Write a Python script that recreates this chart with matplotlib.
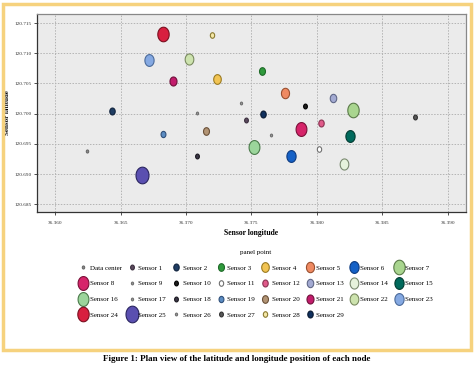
import numpy as np
import matplotlib
matplotlib.use("Agg")
import matplotlib.pyplot as plt
from matplotlib.patches import Rectangle

# node names, positions (lon, lat), marker heights and colours
names = ["Data center"] + ["Sensor %d" % i for i in range(1, 30)]

lon = [36.3624, 36.3746, 36.3643, 36.3758, 36.3724, 36.3776, 36.3780, 36.3828,
       36.3788, 36.3742, 36.3791, 36.3802, 36.3803, 36.3812, 36.3821, 36.3825,
       36.3752, 36.3708, 36.3708, 36.3682, 36.3715, 36.3690, 36.3702, 36.3672,
       36.3682, 36.3666, 36.3765, 36.3875, 36.3720, 36.3759]
lat = [120.6938, 120.6989, 120.7004, 120.7070, 120.7057, 120.7034, 120.6930, 120.7006,
       120.6975, 120.7017, 120.7013, 120.6941, 120.6984, 120.7026, 120.6917, 120.6963,
       120.6945, 120.7001, 120.6930, 120.6966, 120.6971, 120.7054, 120.7090, 120.7089,
       120.7132, 120.6898, 120.6965, 120.6994, 120.7130, 120.6999]

size = [2.2, 3.5, 5, 5.5, 7, 7.5, 8.5, 10.5,
        10, 2, 3.5, 4, 5, 6, 8, 8.5,
        10, 2, 3.5, 4.5, 5.5, 6.5, 8, 8.5,
        10.5, 12, 2, 3.5, 4, 5]

face = ["#8c8c8c", "#5b4a5e", "#1f3d63", "#2f9a3c", "#f2c453", "#ef8a62", "#1561c6", "#a9d58f",
        "#d6246a", "#9a9a9a", "#1e1e1e", "#ffffff", "#e05a8a", "#a3aad2", "#e6f2dc", "#00695c",
        "#9bd59b", "#9a9a9a", "#3b3746", "#5b8cc2", "#b29474", "#c21c6c", "#cde3ae", "#85a9e2",
        "#d81f3f", "#5a4fb0", "#9a9a9a", "#595959", "#f4e7a6", "#10305e"]

edge = ["#6a6a6a", "#3b2f3e", "#10233d", "#1f6a28", "#9a7a20", "#9a5030", "#0c3a80", "#5a7a48",
        "#7a1038", "#707070", "#000000", "#707070", "#8a3050", "#606888", "#7a8a70", "#003a30",
        "#4a7a4a", "#707070", "#1a1820", "#30507a", "#6a5038", "#70103a", "#7a8a60", "#4a6a9a",
        "#7a1020", "#2a2560", "#707070", "#303030", "#8a7a30", "#081830"]

xticks = [36.360, 36.365, 36.370, 36.375, 36.380, 36.385, 36.390]
yticks = [120.685, 120.690, 120.695, 120.700, 120.705, 120.710, 120.715]

serif = ["Liberation Serif", "DejaVu Serif"]
plt.rcParams["font.family"] = serif

# slightly tall ellipse, as in the stretched original
t = np.linspace(0, 2 * np.pi, 40)
ell = np.column_stack([0.78 * np.cos(t), np.sin(t)])

fig = plt.figure(figsize=(4.74, 3.67), dpi=100)
ax = fig.add_axes([0.078, 0.422, 0.905, 0.540])
ax.set_facecolor("#ebebeb")

handles = []
for i in range(len(names)):
    h, = ax.plot(lon[i], lat[i], linestyle="none", marker=ell, markersize=size[i],
                 markerfacecolor=face[i], markeredgecolor=edge[i], markeredgewidth=0.8,
                 label=names[i])
    handles.append(h)

ax.set_xlim(36.3586, 36.3914)
ax.set_ylim(120.6837, 120.7165)
ax.set_xticks(xticks)
ax.set_xticklabels(["%.3f" % v for v in xticks])
ax.set_yticks(yticks)
ax.set_yticklabels(["%.3f" % v for v in yticks])
ax.tick_params(labelsize=3.8, length=2.5, width=0.6, colors="#333333")
ax.tick_params(axis="x", pad=4)
ax.tick_params(axis="y", pad=1)
ax.grid(True, color="#b4b4b4", linestyle=(0, (1.5, 1.5)), linewidth=0.7)
ax.set_axisbelow(True)
for s in ["left", "bottom"]:
    ax.spines[s].set_color("#333333")
    ax.spines[s].set_linewidth(0.9)
for s in ["top", "right"]:
    ax.spines[s].set_color("#888888")
    ax.spines[s].set_linewidth(0.9)

ax.set_xlabel("Sensor longitude", fontsize=5.5, fontweight="bold", labelpad=3)
ax.set_ylabel("Sensor latitude", fontsize=5, fontweight="bold", va="center")
ax.yaxis.set_label_coords(-0.068, 0.5)

# legend laid out row by row, 8 per row
ncol = 8
order = []
for c in range(ncol):
    order += list(range(c, len(names), ncol))
leg = fig.legend([handles[i] for i in order], [names[i] for i in order],
                 ncol=ncol, loc="upper center", bbox_to_anchor=(0.54, 0.335),
                 title="panel point", frameon=False, fontsize=5, title_fontsize=5,
                 handlelength=1.2, handletextpad=0.3, columnspacing=0.9,
                 labelspacing=1.4)

fig.patches.append(Rectangle((0.006, 0.046), 0.987, 0.943, transform=fig.transFigure,
                             fill=False, edgecolor="#f6d27e", linewidth=2.5))
fig.text(0.5, 0.022, "Figure 1: Plan view of the latitude and longitude position of each node",
         ha="center", va="center", fontsize=6.5, fontweight="bold")

fig.savefig("out.png", dpi=100)
